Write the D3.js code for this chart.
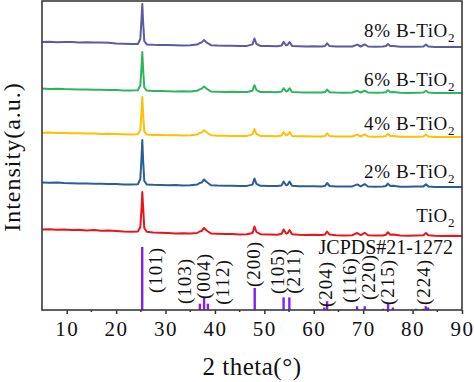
<!DOCTYPE html>
<html><head><meta charset="utf-8">
<script src="https://cdn.jsdelivr.net/npm/d3@7"></script>
<style>html,body{margin:0;padding:0;background:#fff;}svg{display:block;}</style>
</head><body>
<svg id="c" width="474" height="382"></svg>
<script>
// ---- data ----
const theta = [5,6.5,8,9.5,11,12.5,14,15.5,17,18.5,20,21.5,23,24.4,24.9,25.15,25.3,25.45,25.7,26.2,27.5,29,30.5,32,33.5,35,36.4,36.9,37.3,37.8,38.2,38.6,39.2,40.5,42,43.5,45,46.5,47.6,48.0,48.4,49.2,51,52.6,53.5,53.9,54.4,54.7,55.1,55.6,57,58.5,60,61.6,62.3,62.7,63.2,64.5,66,67.8,68.8,69.5,70.3,71,72.5,74,74.6,75.0,75.5,76.1,77.5,79,80.7,82.2,82.7,83.2,84.5,86,88,90];

const seriesNames = ["TiO2","2% B-TiO2","4% B-TiO2","6% B-TiO2","8% B-TiO2"];
const seriesOffsets = [74,123,173,217,263];
const iTiO2 = [6.5,6.8,6.2,6.5,6.0,6.3,5.6,5.9,5.2,5.5,5.0,4.4,4.3,4.6,9,28,44,30,8,4.2,3.6,3.3,3.0,2.6,2.8,2.4,3.0,4.5,5.0,8.0,6.0,4.5,2.6,2.2,1.9,2.1,1.6,1.8,3.0,9.5,4.0,1.8,1.5,1.2,2.2,6.5,2.4,2.8,6.0,1.8,1.3,1.0,1.2,0.9,1.6,4.5,1.4,0.8,0.6,0.8,3.0,0.9,3.2,0.8,0.4,0.6,1.2,3.8,1.2,1.6,0.5,0.3,0.5,0.8,3.0,0.8,0.2,0.0,0.2,0.0];
const iB2 = [4.6,4.2,4.4,4.0,3.8,3.5,3.6,3.2,3.3,2.9,3.0,2.6,2.5,2.8,8,30,47,28,6,2.6,2.2,2.0,1.8,1.9,1.6,1.8,2.4,4.0,4.5,7.5,5.5,4.0,1.8,1.4,1.2,1.3,1.0,1.1,2.4,8.5,3.2,1.2,1.0,0.9,1.6,5.5,1.8,2.2,5.5,1.2,0.8,0.7,0.8,0.6,1.2,4.0,1.0,0.5,0.4,0.6,2.6,0.6,2.8,0.5,0.3,0.5,1.0,3.4,1.0,1.2,0.3,0.2,0.4,0.6,2.6,0.6,0.1,0.0,0.1,0.0];
const iB4 = [4.2,4.5,4.0,4.1,3.7,3.8,3.4,3.5,3.1,3.2,2.9,2.7,2.4,2.7,7,26,40,24,5.5,2.5,2.1,2.0,1.7,1.8,1.5,1.7,2.6,3.8,4.6,6.8,5.2,3.8,1.7,1.3,1.2,1.1,1.0,1.1,2.6,8.0,3.0,1.1,0.9,0.8,1.5,5.0,1.6,2.0,5.0,1.1,0.7,0.7,0.6,0.6,1.1,3.6,0.9,0.5,0.4,0.5,2.4,0.5,2.6,0.5,0.3,0.4,0.9,3.0,0.9,1.1,0.3,0.2,0.3,0.5,2.4,0.5,0.1,0.0,0.1,0.0];
const iB6 = [4.4,4.1,4.3,3.9,3.8,3.6,3.5,3.3,3.2,3.0,2.9,2.5,2.4,2.7,7.5,27,41,25,5.5,2.4,2.0,1.9,1.7,1.6,1.7,1.5,2.2,3.6,4.2,6.5,4.8,3.4,1.6,1.3,1.1,1.2,0.9,1.0,2.3,7.8,2.8,1.0,0.9,0.7,1.4,4.8,1.5,1.9,4.8,1.0,0.7,0.6,0.6,0.5,1.0,3.4,0.8,0.4,0.3,0.5,2.2,0.5,2.4,0.4,0.2,0.4,0.8,2.8,0.8,1.0,0.2,0.1,0.3,0.5,2.2,0.5,0.1,0.0,0.1,0.0];
const iB8 = [5.0,5.2,4.8,5.0,4.9,4.6,4.7,4.5,4.4,4.3,3.6,3.2,2.9,3.0,8,29,43,26,6,2.6,2.2,2.1,1.9,1.8,1.6,1.7,2.4,3.8,4.6,7.0,5.0,3.6,1.8,1.4,1.2,1.3,1.0,1.1,2.6,8.5,3.0,1.1,1.0,0.8,1.5,5.2,1.6,2.1,5.0,1.1,0.8,0.6,0.7,0.6,1.1,3.6,0.9,0.5,0.4,0.5,2.4,0.5,2.6,0.5,0.3,0.4,0.9,3.0,0.9,1.1,0.3,0.2,0.3,0.5,2.4,0.5,0.1,0.0,0.1,0.0];
const seriesValues = [iTiO2,iB2,iB4,iB6,iB8];
const seriesColors = ["#e8161b","#2b5d9b","#ffc000","#2fb45e","#5b5b9f"];

const refTheta = [25.28,36.95,37.80,38.58,48.05,53.89,55.06,62.12,62.69,68.76,70.31,74.03,75.03,76.02,80.73,82.14,82.66,83.15];
const refIntensity = [100,10,20,10,35,20,20,4,14,6,6,2,10,4,2,2,6,4];
const refLabels = ["(101)","(103)","(004)","(112)","(200)","(105)","(211)","(204)","(116)","(220)","(215)","(224)"];
const refLabelTheta = [27.9,33.9,37.6,41.4,47.7,52.6,55.8,62.3,67.3,71.0,74.8,82.1];
const refLabelLift = [40,29,34,28,46,39,39,26,30,33,28,28];

const xTicks = [10,20,30,40,50,60,70,80,90];
const xMinor = [15,25,35,45,55,65,75,85];

// ---- layout ----
const L=42,R=462,T=1,B=310;
const FF = '"Liberation Serif"';
const svg = d3.select("#c");
const x = d3.scaleLinear().domain([5,90]).range([L,R]);
const y = d3.scaleLinear().domain([0,309]).range([B,T]);
const refY = d3.scaleLinear().domain([0,100]).range([0,63]);

// spectra
const line = d3.line().x(d=>x(d[0])).y(d=>y(d[1]));
seriesValues.forEach((vals,i)=>{
  const pts = theta.map((t,k)=>[t, vals[k]+seriesOffsets[i]]);
  svg.append("path").attr("d",line(pts)).attr("fill","none")
    .attr("stroke",seriesColors[i]).attr("stroke-width",2).attr("stroke-linejoin","round");
});

// series labels
const labelBase = [222,178,130,86,37];
seriesNames.forEach((n,i)=>{
  const t = svg.append("text").attr("x",455).attr("y",labelBase[i]).attr("text-anchor","end")
    .style("font-family",FF).style("font-size","19px").style("letter-spacing","0.6px").attr("fill","#111");
  t.append("tspan").text(n.slice(0,-1));
  t.append("tspan").text("2").style("font-size","13px").attr("dy",5);
});

// reference bars
svg.append("g").selectAll("line").data(refTheta).join("line")
  .attr("x1",d=>x(d)).attr("x2",d=>x(d))
  .attr("y1",B).attr("y2",(d,i)=>B-refY(refIntensity[i]))
  .attr("stroke","#7f1fff").attr("stroke-width",2.4);

refLabels.forEach((lab,i)=>{
  const cx = x(refLabelTheta[i]), cy = B-refLabelLift[i];
  svg.append("text").attr("transform",`translate(${cx},${cy}) rotate(-90)`)
    .attr("text-anchor","middle").attr("dy","0.35em")
    .style("font-family",FF).style("font-size","19px").style("letter-spacing","1px").attr("fill","#111").text(lab);
});
svg.append("text").attr("x",453).attr("y",254).attr("text-anchor","end")
  .style("font-family",FF).style("font-size","20px").attr("fill","#111").text("JCPDS#21-1272");

// axis
const ax = svg.append("g").attr("transform",`translate(0,${B})`);
ax.call(d3.axisBottom(x).tickValues(xTicks).tickSize(4).tickPadding(7).tickFormat(d3.format("d")));
ax.select(".domain").remove();
ax.selectAll(".tick line").attr("stroke","#333").attr("stroke-width",1.5);
ax.selectAll(".tick text").style("font-family",FF).style("font-size","21px").style("letter-spacing","1.5px").attr("fill","#111");
ax.selectAll(".minor").data(xMinor).join("line").attr("class","minor")
  .attr("x1",d=>x(d)).attr("x2",d=>x(d)).attr("y1",0).attr("y2",2)
  .attr("stroke","#333").attr("stroke-width",1.5);

// frame
svg.append("rect").attr("x",L).attr("y",T).attr("width",R-L).attr("height",B-T)
  .attr("fill","none").attr("stroke","#3a3a3a").attr("stroke-width",1.6);

// axis titles
svg.append("text").attr("x",252).attr("y",375).attr("text-anchor","middle")
  .style("font-family",FF).style("font-size","25px").style("letter-spacing","0.5px").attr("fill","#111").text("2 theta(°)");
svg.append("text").attr("transform","translate(20,157) rotate(-90)").attr("text-anchor","middle")
  .style("font-family",FF).style("font-size","24px").style("letter-spacing","1px").attr("fill","#111").text("Intensity(a.u.)");
</script>
</body></html>
